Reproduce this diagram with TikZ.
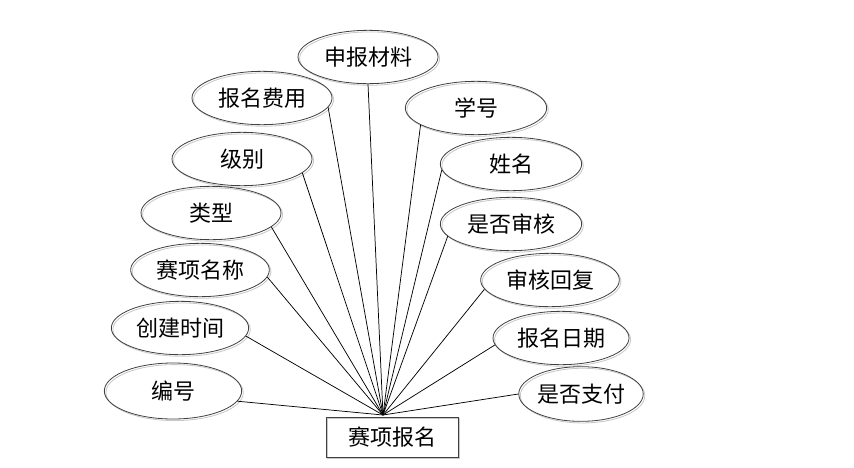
\documentclass[tikz,border=0pt]{standalone}
\usepackage{fontspec}
\newfontfamily\cjk{Noto Sans CJK SC}
\usetikzlibrary{shapes.geometric,shadows}
\begin{document}
\begin{tikzpicture}[x=0.75pt,y=-0.75pt,
  attr/.style={ellipse, draw=black!75, line width=0.6pt, inner sep=0pt,
    minimum height=40pt, font=\cjk\fontsize{16.5}{19}\selectfont,
    general shadow={draw=black!22, shadow xshift=1.2pt, shadow yshift=-1.2pt}},
  ent/.style={rectangle, draw=black!75, line width=0.6pt, inner sep=0pt,
    minimum width=99pt, minimum height=30pt, font=\cjk\fontsize{16.5}{19}\selectfont,
    general shadow={draw=black!22, shadow xshift=1.2pt, shadow yshift=-1.2pt}},
  link/.style={draw=black, line width=0.55pt}]
\useasboundingbox (0,0) rectangle (854,468);
\fill[white] (0,0) rectangle (854,468);

\node[ent] (e) at (392,437) {赛项报名};
\coordinate (hub) at (383,415);

% left side
\node[attr, minimum width=105pt] (a1) at (368,57) {申报材料};
\node[attr, minimum width=105pt] (a2) at (262,98) {报名费用};
\node[attr, minimum width=105pt] (a3) at (242,159) {级别};
\node[attr, minimum width=105pt] (a4) at (211,213) {类型};
\node[attr, minimum width=104pt] (a5) at (200,270) {赛项名称};
\node[attr, minimum width=103pt] (a6) at (180,328) {创建时间};
\node[attr, minimum width=103pt, minimum height=42pt] (a7) at (173,391) {编号};

% right side
\node[attr, minimum width=106pt] (b1) at (476,108) {学号};
\node[attr, minimum width=106pt] (b2) at (511,164) {姓名};
\node[attr, minimum width=106pt] (b3) at (511,224) {是否审核};
\node[attr, minimum width=104pt] (b4) at (550,280) {审核回复};
\node[attr, minimum width=102pt] (b5) at (561,338) {报名日期};
\node[attr, minimum width=91pt, minimum height=41pt] (b6) at (581,394) {是否支付};

% connectors
\draw[link] (a1.-90) -- (hub);
\draw[link] (a2.-8) -- (hub);
\draw[link] (a3.-13) -- (hub);
\draw[link] (a4.-13) -- (hub);
\draw[link] (a5.-6) -- (hub);
\draw[link] (a6.-7) -- (hub);
\draw[link] (a7.-9) -- (hub);
\draw[link] (b1.197) -- (hub);
\draw[link] (b2.185) -- (hub);
\draw[link] (b3.191) -- (hub);
\draw[link] (b4.188) -- (hub);
\draw[link] (b5.186) -- (hub);
\draw[link] (b6.180) -- (hub);
\end{tikzpicture}
\end{document}
